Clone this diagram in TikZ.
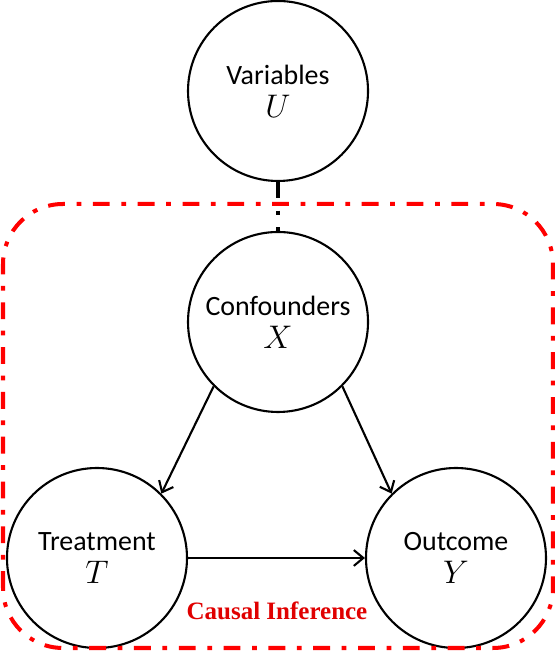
\documentclass[tikz,border=0pt]{standalone}
\usepackage{fix-cm}
\usepackage{fontspec}
\setmainfont{Carlito}
\newfontfamily\labelfont{Liberation Serif}
\usetikzlibrary{positioning}
\usetikzlibrary{arrows.meta}

\begin{document}
\begin{tikzpicture}[
  varnode/.style={circle,draw=black,line width=2pt,minimum size=6cm,inner sep=0pt,align=center,font=\fontsize{26.5}{31.3}\selectfont},
  edge/.style={line width=2pt,-{Straight Barb[length=9pt,width=15pt,line width=2pt]}}
]
\useasboundingbox (0,0) rectangle (18.6,21.7);
\node[varnode] (var) at (9.267,18.667) {Variables\\{\fontsize{31}{31.3}\selectfont$U$}};
\node[varnode] (conf) at (9.267,10.967) {Confounders\\{\fontsize{31}{31.3}\selectfont$X$}};
\node[varnode] (treat) at (3.233,3.1) {Treatment\\{\fontsize{31}{31.3}\selectfont$T$}};
\node[varnode] (out) at (15.2,3.1) {Outcome\\{\fontsize{31}{31.3}\selectfont$Y$}};

\draw[line width=3.5pt,dash pattern=on 15pt off 12pt on 4pt off 12pt] (var.south) -- (conf.north);
\draw[edge] (conf.south west) -- (treat.north east);
\draw[edge] (conf.south east) -- (out.north west);
\draw[edge] (treat.east) -- (out.west);

\draw[red,line width=3.8pt,rounded corners=2cm,dash pattern=on 16pt off 11pt on 4.5pt off 11pt] (0.1,0.1) rectangle (18.433,14.9);
\node[font=\labelfont\bfseries\fontsize{23.7}{28}\selectfont,text=red!88!black] (causal) at (9.233,1.333) {Causal Inference};

\end{tikzpicture}
\end{document}
